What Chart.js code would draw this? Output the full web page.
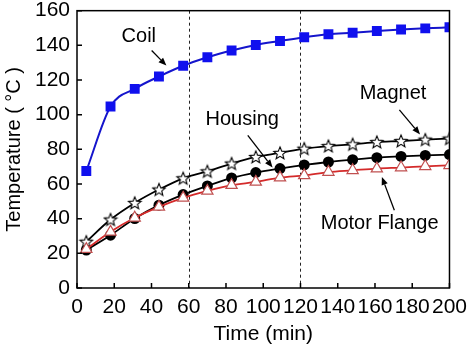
<!DOCTYPE html>
<html>
<head>
<meta charset="utf-8">
<script src="https://cdn.jsdelivr.net/npm/chart.js@4"></script>
<style>
html,body{margin:0;padding:0;background:#fff;}
canvas{display:block;}
</style>
</head>
<body>
<canvas id="c" width="474" height="350"></canvas>
<script>
const time = [5,18,31,44,57,70,83,96,109,122,135,148,161,174,187,200];
const coil = [67.5,104.7,114.9,122,128.2,133.1,137,140.2,142.5,144.7,146.4,147.3,148.3,149.1,149.8,150.4];
const magnet = [26.7,39.5,49.1,56.8,63.3,67.3,71.8,75.6,77.9,80.4,81.9,82.9,84.2,84.8,85.6,86.2];
const housing = [21.9,30.5,40.1,47.8,53.9,58.9,63.5,66.6,68.9,71,72.7,74,75.2,75.9,76.5,77];
const flange = [22.4,32.4,40.5,46.8,52,56,59.3,61.2,63.7,65,66.9,67.9,68.9,69.5,70.2,70.8];
const xTicks = [0,20,40,60,80,100,120,140,160,180,200];
const yTicks = [0,20,40,60,80,100,120,140,160];
const markerLines = [60,120];
const notes = [
  {text:'Coil', x:33.2, y:145, from:[40.1,137], to:[48,128.3]},
  {text:'Housing', x:88.7, y:97.3, from:[91.7,88], to:[105,69.5]},
  {text:'Magnet', x:169.7, y:112.2, from:[173.1,102.8], to:[184.2,88.6]},
  {text:'Motor Flange', x:162.5, y:37.4, from:[170.4,44.9], to:[163.7,64.1]}
];

const FONT = "'Liberation Sans', Arial, sans-serif";

function pts(ys){ return time.map((t,i)=>({x:t,y:ys[i]})); }

// five-point star marker
function makeStar(){
  const s = 16, c = document.createElement('canvas');
  c.width = s; c.height = s;
  const g = c.getContext('2d');
  const cx = s/2, cy = s/2 + 0.5, R = 6.6, r = 2.9;
  g.beginPath();
  for (let i=0;i<10;i++){
    const a = -Math.PI/2 + i*Math.PI/5;
    const rr = i%2===0 ? R : r;
    const px = cx + rr*Math.cos(a), py = cy + rr*Math.sin(a);
    if(i===0) g.moveTo(px,py); else g.lineTo(px,py);
  }
  g.closePath();
  g.fillStyle = '#fff'; g.fill();
  g.lineWidth = 1.1; g.strokeStyle = '#000'; g.stroke();
  return c;
}
const star = makeStar();

const decor = {
  id:'decor',
  beforeDatasetsDraw(chart){
    const {ctx, chartArea:a, scales:{x}} = chart;
    ctx.save();
    ctx.strokeStyle = '#222'; ctx.lineWidth = 1; ctx.setLineDash([3,3]);
    markerLines.forEach(v=>{
      const px = Math.round(x.getPixelForValue(v))+0.5;
      ctx.beginPath(); ctx.moveTo(px,a.top); ctx.lineTo(px,a.bottom); ctx.stroke();
    });
    ctx.restore();
  },
  afterDatasetsDraw(chart){
    const {ctx, chartArea:a, scales:{x,y}} = chart;
    ctx.save();
    ctx.strokeStyle = '#000'; ctx.lineWidth = 1.5;
    ctx.strokeRect(a.left, a.top, a.right-a.left, a.bottom-a.top);
    ctx.beginPath();
    xTicks.forEach(v=>{ const px = x.getPixelForValue(v); ctx.moveTo(px,a.bottom); ctx.lineTo(px,a.bottom-5); });
    yTicks.forEach(v=>{ const py = y.getPixelForValue(v); ctx.moveTo(a.left,py); ctx.lineTo(a.left+5,py); });
    ctx.stroke();
    // annotations
    ctx.fillStyle = '#000';
    ctx.font = '20px ' + FONT;
    ctx.textAlign = 'center'; ctx.textBaseline = 'middle';
    notes.forEach(n=>{
      ctx.fillText(n.text, x.getPixelForValue(n.x), y.getPixelForValue(n.y));
      const x1 = x.getPixelForValue(n.from[0]), y1 = y.getPixelForValue(n.from[1]);
      const x2 = x.getPixelForValue(n.to[0]), y2 = y.getPixelForValue(n.to[1]);
      const ang = Math.atan2(y2-y1, x2-x1), L = 8, W = 3.2;
      const bx = x2 - L*Math.cos(ang), by = y2 - L*Math.sin(ang);
      ctx.lineWidth = 1.3;
      ctx.beginPath(); ctx.moveTo(x1,y1); ctx.lineTo(bx,by); ctx.stroke();
      ctx.beginPath();
      ctx.moveTo(x2,y2);
      ctx.lineTo(bx + W*Math.sin(ang), by - W*Math.cos(ang));
      ctx.lineTo(bx - W*Math.sin(ang), by + W*Math.cos(ang));
      ctx.closePath(); ctx.fill();
    });
    ctx.restore();
  }
};

new Chart(document.getElementById('c'), {
  type:'scatter',
  data:{
    datasets:[
      {label:'Coil', data:pts(coil), showLine:true, borderColor:'#1515cc', borderWidth:2,
       pointStyle:'rect', pointRadius:7, pointBackgroundColor:'#1010ee', pointBorderColor:'#1010ee', pointBorderWidth:0,
       cubicInterpolationMode:'monotone'},
      {label:'Motor Flange', data:pts(flange), showLine:true, borderColor:'#d42a2a', borderWidth:1.8,
       pointStyle:'triangle', pointRadius:6.5, pointBackgroundColor:'#fff', pointBorderColor:'#c05050', pointBorderWidth:1.2,
       cubicInterpolationMode:'monotone'},
      {label:'Housing', data:pts(housing), showLine:true, borderColor:'#000', borderWidth:1.8,
       pointStyle:'circle', pointRadius:5.5, pointBackgroundColor:'#000', pointBorderColor:'#000', pointBorderWidth:0,
       cubicInterpolationMode:'monotone'},
      {label:'Magnet', data:pts(magnet), showLine:true, borderColor:'#000', borderWidth:1.8,
       pointStyle:star, pointRadius:8,
       cubicInterpolationMode:'monotone'}
    ]
  },
  options:{
    responsive:false, animation:false, devicePixelRatio:1,
    layout:{padding:{top:0,right:18,left:0,bottom:0}},
    plugins:{legend:{display:false}, tooltip:{enabled:false}},
    scales:{
      x:{type:'linear', min:0, max:200,
         afterBuildTicks(s){ s.ticks = xTicks.map(v=>({value:v})); },
         afterFit(s){ s.height = 62; },
         grid:{display:false, drawTicks:false}, border:{display:false},
         ticks:{padding:7, color:'#000', font:{family:FONT, size:21}, maxRotation:0, autoSkip:false},
         title:{display:true, text:'Time (min)', color:'#000', font:{family:FONT, size:21}, padding:{top:0,bottom:3}}},
      y:{min:0, max:160,
         afterBuildTicks(s){ s.ticks = yTicks.map(v=>({value:v})); },
         afterFit(s){ s.width = 77; },
         grid:{display:false, drawTicks:false}, border:{display:false},
         ticks:{padding:7, color:'#000', font:{family:FONT, size:21, lineHeight:0.35}},
         title:{display:true, text:'Temperature ( °C )', color:'#000', font:{family:FONT, size:20}, padding:{top:2,bottom:0}}}
    }
  },
  plugins:[decor]
});
</script>
</body>
</html>
